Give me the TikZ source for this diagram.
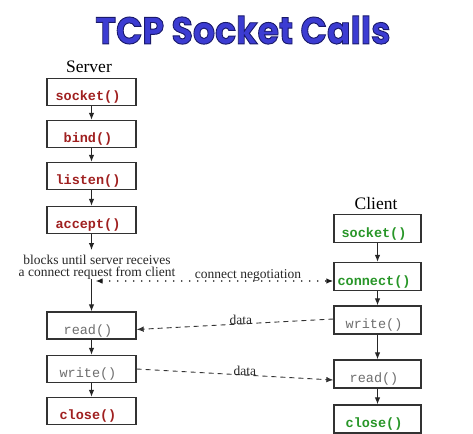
\documentclass[tikz,border=0pt]{standalone}
\usepackage{fontspec}
\setmainfont{Liberation Serif}
\newfontfamily\monof{Liberation Mono}
\newfontfamily\titlef{Poppins}
\usetikzlibrary{arrows.meta,calc}
\definecolor{srvred}{RGB}{160,32,32}
\definecolor{cligreen}{RGB}{40,150,40}
\definecolor{callgray}{RGB}{110,110,110}
\definecolor{boxgray}{RGB}{50,50,50}
\definecolor{titleblue}{RGB}{60,60,210}
\tikzset{
  callbox/.style={draw=boxgray,line width=1.3pt,minimum width=89pt,minimum height=27pt,inner sep=0pt,fill=white},
  clibox/.style={callbox,minimum width=87pt,minimum height=28pt},
  srvcall/.style={text=srvred,font=\monof\bfseries\fontsize{13.5}{15}\selectfont},
  clicall/.style={text=cligreen,font=\monof\bfseries\fontsize{13.5}{15}\selectfont},
  graycall/.style={text=callgray,font=\monof\fontsize{13.5}{15}\selectfont},
  flow/.style={-{Latex[length=7pt,width=5.5pt]},line width=1pt,draw=black!85},
  msg/.style={-{Latex[length=7pt,width=5.5pt]},line width=0.9pt,dash pattern=on 5pt off 4pt,draw=black!80},
  neg/.style={{Latex[length=7pt,width=5.5pt]}-{Latex[length=7pt,width=5.5pt]},line width=1.8pt,line cap=round,dash pattern=on 0pt off 8pt,draw=black!90},
  note/.style={font=\fontsize{13.5}{12}\selectfont,text=black!85,align=center,inner sep=0pt},
  side/.style={font=\fontsize{17.5}{18}\selectfont,inner sep=0pt}
}
\newcommand{\low}[1]{\raisebox{-8.5pt}[0pt][0pt]{\makebox[0pt]{\hspace*{-7pt}#1}}}
\begin{document}
\begin{tikzpicture}[x=1pt,y=-1pt]
\useasboundingbox (0,0) rectangle (473,433);
% title
\node[inner sep=0pt,text=titleblue] (title) at (243,30)
  {\resizebox{295pt}{28pt}{\titlef\bfseries\special{pdf:literal direct 2 Tr 0.25 w 0.1 0.1 0.42 RG}TCP Socket Calls\special{pdf:literal direct 0 Tr}}};
% server
\node[side] (server) at (89,67) {Server};
\node[callbox,srvcall] (ssocket) at (91.5,92) {\low{socket()}};
\node[callbox,srvcall] (sbind) at (91.5,134) {\low{bind()}};
\node[callbox,srvcall] (slisten) at (91.5,176) {\low{listen()}};
\node[callbox,srvcall] (saccept) at (91.5,220) {\low{accept()}};
\coordinate (sblock) at (91.5,250);
\node[note] (blocknote) at (97,267) {blocks until server receives\\a connect request from client};
\coordinate (meet) at (91.5,281);
\node[callbox,graycall] (sread) at (91.5,325.5) {\low{read()}};
\node[callbox,graycall] (swrite) at (91.5,369) {\low{write()}};
\node[callbox,srvcall] (sclose) at (91.5,411) {\low{close()}};
\draw[flow] (ssocket) -- (sbind);
\draw[flow] (sbind) -- (slisten);
\draw[flow] (slisten) -- (saccept);
\draw[flow] (saccept) -- (sblock);
\draw[line width=1pt,draw=black!85] (blocknote.south -| meet) -- (meet);
\draw[flow] (meet) -- (sread);
\draw[flow] (sread) -- (swrite);
\draw[flow] (swrite) -- (sclose);
% client
\node[side] (client) at (376,204) {Client};
\node[clibox,clicall] (csocket) at (377.5,228.5) {\low{socket()}};
\node[clibox,clicall] (cconnect) at (377.5,276.5) {\low{connect()}};
\node[clibox,graycall] (cwrite) at (377.5,320) {\low{write()}};
\node[clibox,graycall] (cread) at (377.5,374) {\low{read()}};
\node[clibox,clicall] (cclose) at (377.5,419) {\low{close()}};
\draw[flow] (csocket) -- (cconnect);
\draw[flow] (cconnect) -- (cwrite);
\draw[flow] (cwrite) -- (cread);
\draw[flow] (cread) -- (cclose);
% messages
\draw[neg] ([xshift=4pt]meet) -- (cconnect.west |- meet);
\node[note,anchor=base] (negtext) at (248,278) {connect negotiation};
\draw[msg] ([yshift=1pt]cwrite.west) -- node[note,pos=0.47,above=-1pt] (data1) {data} ([yshift=-4pt]sread.east);
\draw[msg] (swrite.east) -- node[note,pos=0.55,above=-1pt] (data2) {data} ([yshift=-6pt]cread.west);
\end{tikzpicture}
\end{document}
